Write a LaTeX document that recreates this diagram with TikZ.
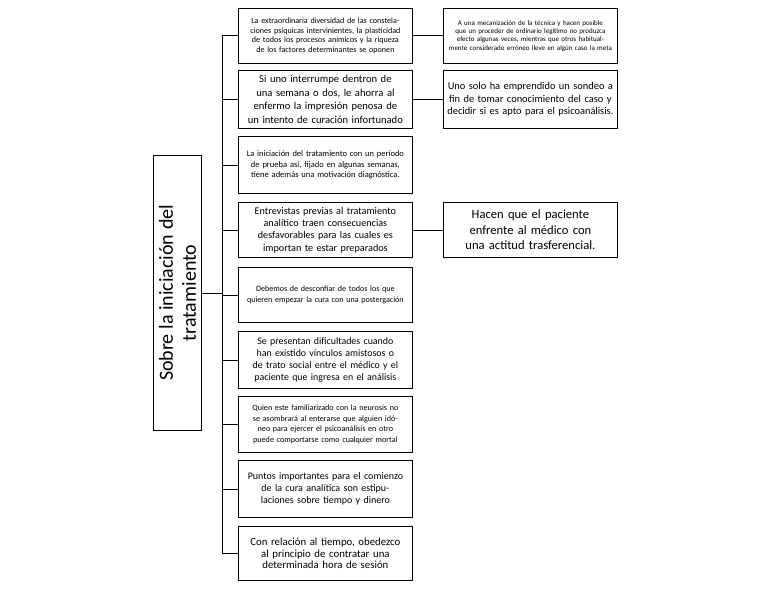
\documentclass[tikz,border=0pt]{standalone}
\usepackage{fontspec}
\setmainfont{Carlito}
\newcommand\nohy{\hyphenpenalty=10000 \exhyphenpenalty=10000 }
\begin{document}
\begin{tikzpicture}[x=1pt,y=-1pt,
 bx/.style={draw,thick,fill=white,inner sep=0.5pt,align=center,text width=172pt,minimum width=174pt,anchor=north west,font=#1},
 ln/.style={draw,thick}]
\useasboundingbox (0,0) rectangle (768,594);
\node[draw,thick,minimum width=48pt,minimum height=275pt,anchor=north west] (t) at (153,155) {};
\node[rotate=90,align=center,font=\fontsize{20}{23}\selectfont] at (t.center) {Sobre la iniciación del\\tratamiento};
\def\B#1#2#3#4#5{\node[bx=#4,minimum height=#3pt] (#1) at (238,#2) {\nohy #5};}
\B{b1}{8}{55}{\fontsize{8.1}{9.6}\selectfont}{La extraordinaria diversidad de las constelaciones psíquicas intervinientes, la plasticidad de todos los procesos anímicos y la riqueza de los factores determinantes se oponen}
\B{b2}{70}{58}{\fontsize{10.6}{13.5}\selectfont}{Si uno interrumpe dentron de una semana o dos, le ahorra al enfermo la impresión penosa de un intento de curación infortunado}
\B{b3}{136}{57}{\fontsize{8.5}{10.5}\selectfont}{La iniciación del tratamiento con un período de prueba así, fijado en algunas semanas, tiene además una motivación diagnóstica.}
\B{b4}{202}{55}{\fontsize{10.2}{12.3}\selectfont}{Entrevistas previas al tratamiento analítico traen consecuencias desfavorables para las cuales es importan te estar preparados}
\B{b5}{267}{55}{\fontsize{8.1}{11}\selectfont}{Debemos de desconfíar de todos los que quieren empezar la cura con una postergación}
\B{b6}{331}{57}{\fontsize{9.9}{12.3}\selectfont}{Se presentan dificultades cuando han existido vínculos amistosos o de trato social entre el médico y el paciente que ingresa en el análisis}
\B{b7}{396}{56}{\fontsize{8.1}{10.6}\selectfont}{Quien este familiarizado con la neurosis no se asombrará al enterarse que alguien idóneo para ejercer el psicoanálisis en otro puede comportarse como cualquier mortal}
\B{b8}{460}{57}{\fontsize{10}{12.3}\selectfont}{Puntos importantes para el comienzo de la cura analítica son estipulaciones sobre tiempo y dinero}
\B{b9}{526}{54}{\fontsize{10.8}{11.8}\selectfont}{Con relación al tiempo, obedezco al principio de contratar una determinada hora de sesión}
\node[bx={\fontsize{7}{8.3}\selectfont},minimum height=55pt] (r1) at (443,8) {\nohy A una mecanización de la técnica y hacen posible que un proceder de ordinario legítimo no produzca efecto algunas veces, mientras que otros habitualmente considerado erróneo lleve en algún caso la meta};
\node[bx={\fontsize{10.4}{12.5}\selectfont},minimum height=58pt] (r2) at (443,70) {\nohy Uno solo ha emprendido un sondeo a fin de tomar conocimiento del caso y decidir si es apto para el psicoanálisis.};
\node[bx={\fontsize{12.6}{15.5}\selectfont},minimum height=55pt] (r3) at (443,202) {\nohy Hacen que el paciente enfrente al médico con una actitud trasferencial.};
\draw[ln] (b1.west -| 222,0) -- (b9.west -| 222,0);
\foreach \b in {b1,b2,b3,b4,b5,b6,b7,b8,b9} \draw[ln] (\b.west -| 222,0) -- (\b.west);
\coordinate (j) at (222,293);
\draw[ln] (t.east |- j) -- (j);
\draw[ln] (b1) -- (r1);
\draw[ln] (b2) -- (r2);
\draw[ln] (b4) -- (r3);
\end{tikzpicture}
\end{document}
